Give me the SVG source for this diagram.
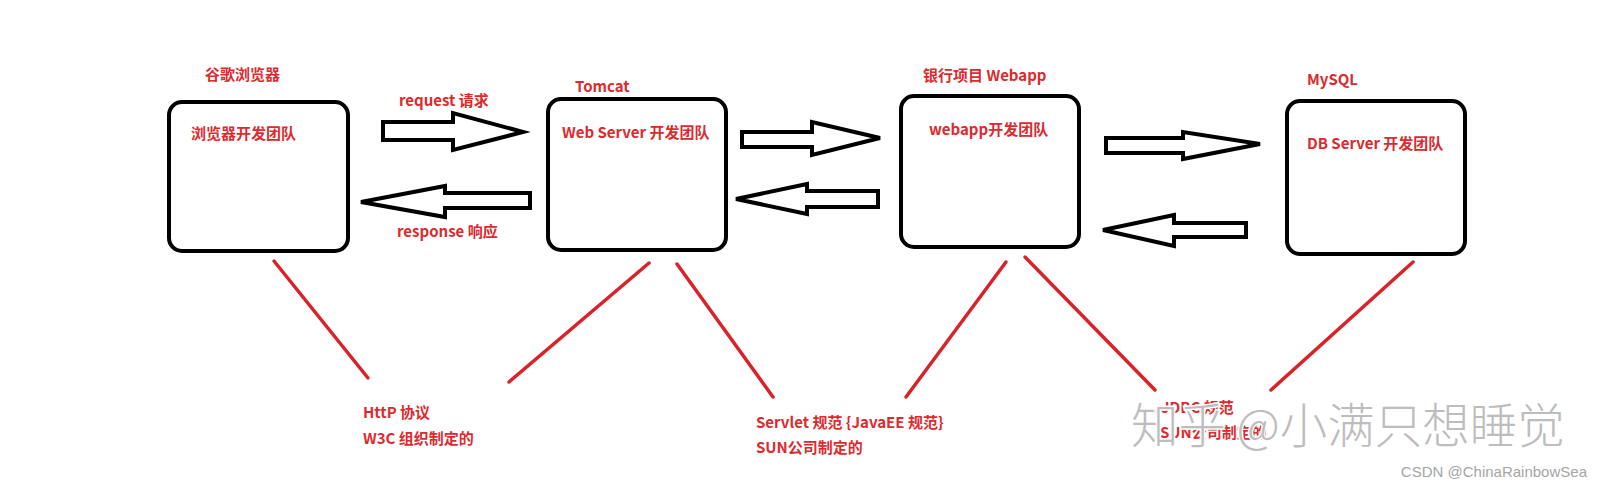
<svg xmlns="http://www.w3.org/2000/svg" width="1605" height="490" viewBox="0 0 1605 490">
<style>
.box{fill:#fff;stroke:#000;stroke-width:4}
.arr{fill:#fff;stroke:#000;stroke-width:4;stroke-linejoin:miter}
.ln{stroke:#d8232a;stroke-width:3.5;stroke-linecap:round}
.t{font-family:"Noto Sans CJK SC","Microsoft YaHei",sans-serif;font-weight:bold;font-size:15px;fill:#dc2a2f}
.wm{font-family:"Noto Sans CJK SC",sans-serif;font-weight:300;font-size:47.5px;fill:#bdbdbd;stroke:#fff;stroke-width:3;paint-order:stroke}
.cs{font-family:"Liberation Sans","Noto Sans",sans-serif;font-size:15px;fill:#a6a6a6;stroke:#fff;stroke-width:2;paint-order:stroke}
</style>
<rect width="1605" height="490" fill="#fff"/>
<g id="browser">
<rect class="box" x="169" y="102" width="179" height="149" rx="13"/>
<text class="t" x="205" y="80">谷歌浏览器</text>
<text class="t" x="191" y="139">浏览器开发团队</text>
</g>
<g id="tomcat">
<rect class="box" x="548" y="99" width="178" height="151" rx="13"/>
<text class="t" x="575" y="92">Tomcat</text>
<text class="t" x="562" y="138">Web Server 开发团队</text>
</g>
<g id="webapp">
<rect class="box" x="901" y="96" width="178" height="151" rx="13"/>
<text class="t" x="923" y="81">银行项目 Webapp</text>
<text class="t" x="929" y="135">webapp开发团队</text>
</g>
<g id="mysql">
<rect class="box" x="1287" y="101" width="178" height="153" rx="13"/>
<text class="t" x="1307" y="85">MySQL</text>
<text class="t" x="1307" y="149">DB Server 开发团队</text>
</g>
<g id="connectors">
<polygon class="arr" points="383,122 453,122 453,113 523,132 453,150 453,140 383,140"/>
<polygon class="arr" points="530,193 445,193 445,186 361,202 445,217 445,208 530,208"/>
<polygon class="arr" points="742,132 812,132 812,122 880,138 812,155 812,147 742,147"/>
<polygon class="arr" points="878,191 807,191 807,184 736,199 807,214 807,207 878,207"/>
<polygon class="arr" points="1106,138 1183,138 1183,132 1260,144 1183,159 1183,153 1106,153"/>
<polygon class="arr" points="1246,223 1174,223 1174,215 1103,230 1174,246 1174,237 1246,237"/>
<line class="ln" x1="274" y1="261" x2="368" y2="378"/>
<line class="ln" x1="649" y1="263" x2="509" y2="382"/>
<line class="ln" x1="677" y1="264" x2="773" y2="397"/>
<line class="ln" x1="1006" y1="262" x2="906" y2="397"/>
<line class="ln" x1="1025" y1="257" x2="1155" y2="390"/>
<line class="ln" x1="1413" y1="262" x2="1271" y2="390"/>
<text class="t" x="399" y="106">request 请求</text>
<text class="t" x="397" y="237">response 响应</text>
</g>
<g id="labels">
<text class="t" x="363" y="418">HttP 协议</text>
<text class="t" x="363" y="444">W3C 组织制定的</text>
<text class="t" x="756" y="428">Servlet 规范 {JavaEE 规范}</text>
<text class="t" x="756" y="453">SUN公司制定的</text>
<text class="t" x="1161" y="413">JDBC 规范</text>
<text class="t" x="1160" y="438">SUN公司制定的</text>
</g>
<g id="watermark">
<text class="wm" x="1131" y="443">知乎 @小满只想睡觉</text>
<text class="cs" x="1587" y="477" text-anchor="end">CSDN @ChinaRainbowSea</text>
</g>
</svg>
